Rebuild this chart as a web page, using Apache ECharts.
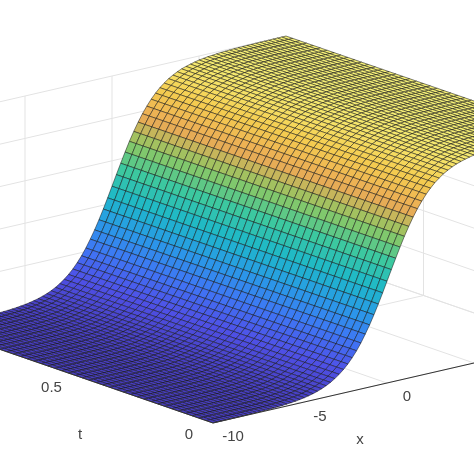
<!DOCTYPE html>
<html>
<head>
<meta charset="utf-8">
<script src="https://cdn.jsdelivr.net/npm/echarts@6/dist/echarts.min.js"></script>
<style>html,body{margin:0;padding:0;background:#fff}#main{width:474px;height:474px}</style>
</head>
<body>
<div id="main"></div>
<script>
// grid of the surface
const xs = [-10,-9.75,-9.5,-9.25,-9,-8.75,-8.5,-8.25,-8,-7.75,-7.5,-7.25,-7,-6.75,-6.5,-6.25,-6,-5.75,-5.5,-5.25,
            -5,-4.75,-4.5,-4.25,-4,-3.75,-3.5,-3.25,-3,-2.75,-2.5,-2.25,-2,-1.75,-1.5,-1.25,-1,-0.75,-0.5,-0.25,
            0,0.25,0.5,0.75,1,1.25,1.5,1.75,2,2.25,2.5,2.75,3,3.25,3.5,3.75,4,4.25,4.5,4.75,
            5,5.25,5.5,5.75,6,6.25,6.5,6.75,7,7.25,7.5,7.75,8,8.25,8.5,8.75,9,9.25,9.5,9.75,10];
const ts = [0,0.025,0.05,0.075,0.1,0.125,0.15,0.175,0.2,0.225,0.25,0.275,0.3,0.325,0.35,0.375,0.4,0.425,0.45,0.475,0.5,
            0.525,0.55,0.575,0.6,0.625,0.65,0.675,0.7,0.725,0.75,0.775,0.8,0.825,0.85,0.875,0.9,0.925,0.95,0.975,1];
// u(x) (same profile for every t)
const uProfile = [0.0003,0.0004,0.0005,0.0006,0.0007,0.0008,0.001,0.0013,0.0015,0.0019,0.0023,0.0028,0.0034,0.0041,0.0051,0.0062,0.0075,0.0092,0.0112,0.0137,
                  0.0166,0.0202,0.0246,0.0299,0.0362,0.0439,0.0531,0.0641,0.0773,0.0928,0.111,0.132,0.157,0.185,0.217,0.254,0.293,0.336,0.382,0.430,
                  0.480,0.530,0.579,0.627,0.673,0.715,0.754,0.789,0.820,0.848,0.872,0.893,0.910,0.926,0.938,0.949,0.958,0.965,0.971,0.976,
                  0.981,0.984,0.987,0.989,0.991,0.993,0.994,0.995,0.996,0.9967,0.997,0.998,0.998,0.9985,0.999,0.999,0.999,0.9995,0.9996,0.9997,0.9997];
const xTicks = [-10,-5,0,5,10];
const tTicks = [0,0.5,1];
const zTicks = [0,0.2,0.4,0.6,0.8,1];

// view: orthographic projection
const O = [213,423], EX = [17.4,-4], ET = [-275,-95], EZ = [0,-212];
function proj(x,t,z){
  const a = x + 10;
  return [O[0]+a*EX[0]+t*ET[0]+z*EZ[0], O[1]+a*EX[1]+t*ET[1]+z*EZ[1]];
}

const parula = [[72,62,190],[78,82,232],[62,120,245],[40,155,230],[30,185,200],[60,200,160],
                [140,200,100],[235,170,85],[245,205,80],[245,240,120]];
function cmap(v){
  const p = Math.max(0,Math.min(1,v))*(parula.length-1);
  const i = Math.min(parula.length-2, Math.floor(p)), f = p-i;
  const c = parula[i].map((c0,k)=>Math.round(c0+(parula[i+1][k]-c0)*f));
  return 'rgb('+c.join(',')+')';
}

// cells, far ones first
const cells = [];
for (let j = ts.length-2; j >= 0; j--)
  for (let i = xs.length-2; i >= 0; i--) cells.push([i,j]);

const lines = [];
xTicks.forEach(x=>{ lines.push([[x,1,0],[x,1,1]]); lines.push([[x,0,0],[x,1,0]]); });
tTicks.forEach(t=>{ lines.push([[10,t,0],[10,t,1]]); lines.push([[-10,t,0],[10,t,0]]); });
zTicks.forEach(z=>{ lines.push([[-10,1,z],[10,1,z]]); lines.push([[10,0,z],[10,1,z]]); });

const axes = [[[-10,0,0],[10,0,0]],[[-10,0,0],[-10,1,0]]];
const labels = [];
xTicks.forEach(x=>{ const p = proj(x,0,0); labels.push({p:[p[0]+20,p[1]+14],s:String(x)}); });
tTicks.forEach(t=>{ const p = proj(-10,t,0); labels.push({p:[p[0]-24,p[1]+12],s:String(t)}); });
labels.push({p:[80,435],s:'t'}); labels.push({p:[360,440],s:'x'});

function pt(api,q){ const s = proj(q[0],q[1],q[2]); return api.coord(s); }

const chart = echarts.init(document.getElementById('main'));
chart.setOption({
  animation:false,
  grid:{left:0,right:0,top:0,bottom:0},
  xAxis:{type:'value',min:0,max:474,show:false},
  yAxis:{type:'value',min:0,max:474,inverse:true,show:false},
  series:[
    {type:'custom',data:lines,renderItem:(p,api)=>{
      const l = lines[p.dataIndex];
      const a = pt(api,l[0]), b = pt(api,l[1]);
      return {type:'line',shape:{x1:a[0],y1:a[1],x2:b[0],y2:b[1]},style:{stroke:'#e3e3e3',lineWidth:1}};
    }},
    {type:'custom',data:cells,renderItem:(p,api)=>{
      const [i,j] = cells[p.dataIndex];
      const q = [[xs[i],ts[j],uProfile[i]],[xs[i+1],ts[j],uProfile[i+1]],
                 [xs[i+1],ts[j+1],uProfile[i+1]],[xs[i],ts[j+1],uProfile[i]]];
      return {type:'polygon',shape:{points:q.map(v=>pt(api,v))},
        style:{fill:cmap((uProfile[i]+uProfile[i+1])/2),stroke:'#111',lineWidth:0.5}};
    }},
    {type:'custom',data:axes,renderItem:(p,api)=>{
      const l = axes[p.dataIndex];
      const a = pt(api,l[0]), b = pt(api,l[1]);
      return {type:'line',shape:{x1:a[0],y1:a[1],x2:b[0],y2:b[1]},style:{stroke:'#333',lineWidth:1}};
    }},
    {type:'custom',data:labels,renderItem:(p,api)=>{
      const l = labels[p.dataIndex];
      const c = api.coord(l.p);
      return {type:'text',x:c[0],y:c[1],style:{text:l.s,fill:'#444',font:'15px "Liberation Sans", Arial',align:'center',verticalAlign:'middle'}};
    }}
  ]
});
</script>
</body>
</html>
